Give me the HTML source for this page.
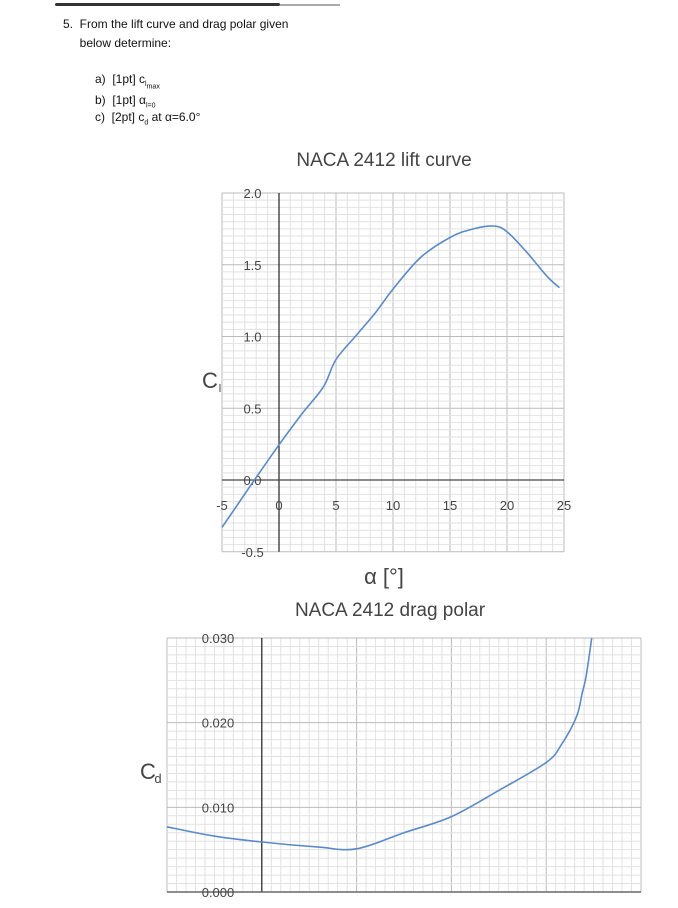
<!DOCTYPE html>
<html><head><meta charset="utf-8">
<style>
body{margin:0;background:#fff;width:678px;height:908px;overflow:hidden;font-family:"Liberation Sans",sans-serif;}
.q{position:absolute;font-family:"Liberation Sans",sans-serif;font-size:12px;color:#111;}
</style></head><body>
<div style="position:absolute;left:55px;top:3px;width:225px;height:3px;background:#333;border-radius:2px"></div>
<div style="position:absolute;left:280px;top:4px;width:60px;height:2px;background:#aaa"></div>
<div class="q" style="left:63px;top:15px;line-height:19px">5.&nbsp;&nbsp;From the lift curve and drag polar given<br>&nbsp;&nbsp;&nbsp;&nbsp;&nbsp;below determine:</div>
<div class="q" style="left:95px;top:72px">a)&nbsp; [1pt] c<sub style="font-size:7px">l<sub style="font-size:7px">max</sub></sub></div>
<div class="q" style="left:95px;top:93px">b)&nbsp; [1pt] α<sub style="font-size:7px">l=0</sub></div>
<div class="q" style="left:95px;top:110px">c)&nbsp; [2pt] c<sub style="font-size:7px">d</sub> at α=6.0°</div>
<svg id="svg" width="678" height="908" style="position:absolute;left:0;top:0"></svg>
<script>
const liftAlpha=[-5,-2.5,0,2,3.9,5,6.8,8.5,10,12.4,15,16.8,18.8,20,21.7,23.5,24.6];
const liftCl=[-0.33,-0.04,0.245,0.46,0.65,0.84,1.01,1.17,1.33,1.55,1.69,1.745,1.77,1.73,1.59,1.42,1.34];
const liftXTicks=[-5,0,5,10,15,20,25];
const liftYTicks=["-0.5","0.0","0.5","1.0","1.5","2.0"];
const dragCl=[-0.5,-0.25,0,0.3,0.5,0.75,1.0,1.25,1.5,1.58,1.66,1.69,1.71,1.74];
const dragCd=[0.0077,0.0066,0.0059,0.0053,0.0051,0.0070,0.0089,0.0120,0.0153,0.0174,0.0207,0.0235,0.0254,0.030];
const dragYTicks=["0.000","0.010","0.020","0.030"];
const NS="http://www.w3.org/2000/svg",svg=document.getElementById('svg');
function mk(t,a,name){const e=document.createElementNS(NS,t);for(const k in a)e.setAttribute(k,a[k]);


svg.appendChild(e);return e;}
function txt(x,y,s,size,name,anchor){const e=mk('text',{x:x,y:y,'font-size':size,fill:'#444','font-family':'Liberation Sans, sans-serif','text-anchor':anchor||'middle'},name);e.textContent=s;return e;}
function smooth(p){let d='M'+p[0][0].toFixed(1)+','+p[0][1].toFixed(1);
for(let i=0;i<p.length-1;i++){const p0=p[i-1]||p[i],p1=p[i],p2=p[i+1],p3=p[i+2]||p2;
const c1=[p1[0]+(p2[0]-p0[0])/6,p1[1]+(p2[1]-p0[1])/6],c2=[p2[0]-(p3[0]-p1[0])/6,p2[1]-(p3[1]-p1[1])/6];
d+='C'+c1.map(v=>v.toFixed(1))+' '+c2.map(v=>v.toFixed(1))+' '+p2.map(v=>v.toFixed(1));}
return d;}
// lift axes
const lx=a=>222+(a+5)*(342/30), ly=c=>480-c*(287/2);
for(let a=-5;a<=25;a++){mk('line',{x1:lx(a),x2:lx(a),y1:ly(2),y2:ly(-0.5),stroke:a%5==0?'#bbb':'#e2e2e2','stroke-width':1},'lift-grid-v');}
for(let i=-10;i<=40;i++){const c=i*0.05;mk('line',{x1:lx(-5),x2:lx(25),y1:ly(c),y2:ly(c),stroke:i%10==0?'#bbb':'#e2e2e2','stroke-width':1},'lift-grid-h');}
mk('line',{x1:lx(0),x2:lx(0),y1:ly(2),y2:ly(-0.5),stroke:'#222','stroke-width':1.2},'lift-y-axis');
mk('line',{x1:lx(-5),x2:lx(25),y1:ly(0),y2:ly(0),stroke:'#444','stroke-width':1.2},'lift-x-axis');
liftYTicks.forEach(t=>txt(lx(-2.5)+2,ly(+t)+5,t,13,'lift-y-tick'));
liftXTicks.forEach(t=>txt(lx(t),ly(0)+30,String(t),13,'lift-x-tick'));
mk('path',{d:smooth(liftAlpha.map((a,i)=>[lx(a),ly(liftCl[i])])),fill:'none',stroke:'#5b8ac6','stroke-width':1.6,'stroke-linejoin':'round'},'lift-curve');
txt(384,166,'NACA 2412 lift curve',19,'lift-title');
txt(210,388,'C',22,'lift-y-title');txt(220,392,'l',11,'lift-y-sub');
txt(384,584,'α [°]',22,'lift-x-title');
txt(390,616,'NACA 2412 drag polar',19,'drag-title');
// drag axes
const dx=c=>167+(c+0.5)*(474/2.5), dy=d=>892-d*(254/0.03);
for(let i=-10;i<=40;i++){const c=i*0.05;mk('line',{x1:dx(c),x2:dx(c),y1:dy(0.03),y2:dy(0),stroke:i%10==0?'#bbb':'#e2e2e2','stroke-width':1},'drag-grid-v');}
for(let i=0;i<=30;i++){const d=i*0.001;mk('line',{x1:dx(-0.5),x2:dx(2),y1:dy(d),y2:dy(d),stroke:i%10==0?'#bbb':'#e2e2e2','stroke-width':1},'drag-grid-h');}
mk('line',{x1:dx(0),x2:dx(0),y1:dy(0.03),y2:dy(0),stroke:'#222','stroke-width':1.2},'drag-y-axis');
mk('line',{x1:dx(-0.5),x2:dx(2),y1:dy(0),y2:dy(0),stroke:'#666','stroke-width':1.5},'drag-x-axis');
dragYTicks.forEach(t=>txt(218,dy(+t)+5,t,13,'drag-y-tick'));
mk('path',{d:smooth(dragCl.map((c,i)=>[dx(c),dy(dragCd[i])])),fill:'none',stroke:'#5b8ac6','stroke-width':1.6,'stroke-linejoin':'round'},'drag-curve');
txt(148,779,'C',22,'drag-y-title');txt(158,783,'d',13,'drag-y-sub');
</script>
</body></html>
